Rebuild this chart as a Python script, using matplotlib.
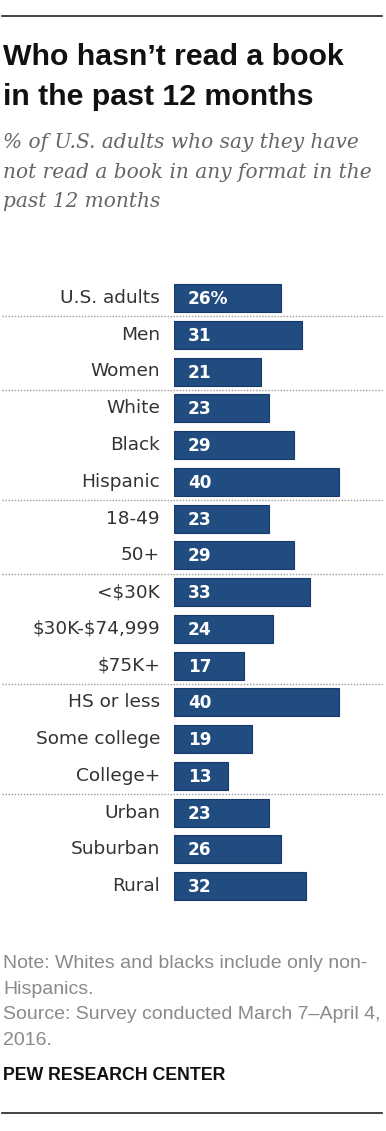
import matplotlib
matplotlib.use("Agg")
import matplotlib.pyplot as plt
from matplotlib.transforms import blended_transform_factory
from matplotlib.lines import Line2D

categories = ["U.S. adults", "Men", "Women", "White", "Black", "Hispanic",
              "18-49", "50+", "<$30K", "$30K-$74,999", "$75K+",
              "HS or less", "Some college", "College+", "Urban", "Suburban", "Rural"]
values = [26, 31, 21, 23, 29, 40, 23, 29, 33, 24, 17, 40, 19, 13, 23, 26, 32]
value_labels = ["26%"] + [str(v) for v in values[1:]]
separators_after = [0, 2, 5, 7, 10, 13]

W, H = 386, 1131
fig = plt.figure(figsize=(W / 100, H / 100), dpi=100)
fig.patch.set_facecolor("white")

def fx(px):
    return px / W

def fy(py):
    return 1 - py / H

# Bar axes
ax_left, ax_right = 174, 382
ax_top, ax_bot = 270, 905
ax = fig.add_axes([fx(ax_left), fy(ax_bot), fx(ax_right - ax_left), (ax_bot - ax_top) / H])
ppu = 4.125
row_px = 36.75
first_center = 298
ax.set_xlim(0, (ax_right - ax_left) / ppu)
ax.set_ylim(16 + (ax_bot - 886) / row_px, -(first_center - ax_top) / row_px)
ax.axis("off")

ypos = list(range(len(categories)))
ax.barh(ypos, values, height=28 / row_px, color="#214c80", edgecolor="#17386a",
        linewidth=0.8, left=0)

label_font = "DejaVu Sans"
for i, (cat, lab) in enumerate(zip(categories, value_labels)):
    ax.text(-14 / ppu, i, cat, ha="right", va="center", fontsize=13.3,
            color="#333333", family=label_font, clip_on=False, parse_math=False)
    ax.text(14 / ppu, i + 0.03, lab, ha="left", va="center", fontsize=12.2,
            color="white", fontweight="bold", family=label_font, parse_math=False)

tr = blended_transform_factory(fig.transFigure, ax.transData)
for s in separators_after:
    ax.add_line(Line2D([fx(2), fx(382)], [s + 0.5, s + 0.5], transform=tr,
                       color="#999999", linewidth=1.0, linestyle=(0, (1, 1.2)),
                       clip_on=False))

# Rules
fig.add_artist(Line2D([fx(2), fx(382)], [fy(16), fy(16)], color="#222222", linewidth=1.2))
fig.add_artist(Line2D([fx(2), fx(382)], [fy(1113), fy(1113)], color="#222222", linewidth=1.2))

# Title
fig.text(fx(3), fy(65), "Who hasn\u2019t read a book", fontsize=21.8, fontweight="bold",
         color="#111111", va="baseline", ha="left", family="Liberation Sans")
fig.text(fx(3), fy(105), "in the past 12 months", fontsize=21.8, fontweight="bold",
         color="#111111", va="baseline", ha="left", family="Liberation Sans")

# Subtitle
sub = ["% of U.S. adults who say they have",
       "not read a book in any format in the",
       "past 12 months"]
for k, line in enumerate(sub):
    fig.text(fx(3), fy(148 + 29.5 * k), line, fontsize=14.5, style="italic",
             color="#666666", va="baseline", ha="left", family="DejaVu Serif")

# Notes
notes = ["Note: Whites and blacks include only non-",
         "Hispanics.",
         "Source: Survey conducted March 7\u2013April 4,",
         "2016."]
for k, line in enumerate(notes):
    fig.text(fx(3), fy(968 + 25.7 * k), line, fontsize=14, color="#8a8a8a",
             va="baseline", ha="left", family="Liberation Sans")

fig.text(fx(3), fy(1080), "PEW RESEARCH CENTER", fontsize=12.8, fontweight="bold",
         color="#111111", va="baseline", ha="left", family="Liberation Sans")

fig.savefig("out.png", dpi=100, facecolor="white")
